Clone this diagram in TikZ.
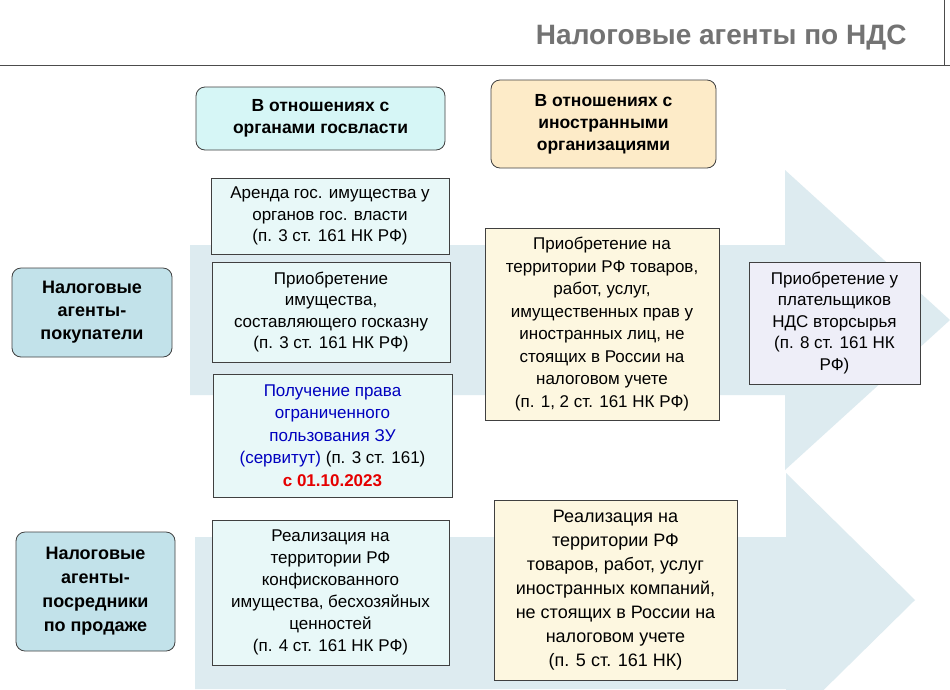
\documentclass[tikz,border=0pt]{standalone}
\usepackage{fontspec}
\setmainfont{Liberation Sans}
\definecolor{arr}{HTML}{DDEBF0}
\definecolor{hcyan}{HTML}{D6F6F6}
\definecolor{hor}{HTML}{FDEBC8}
\definecolor{lteal}{HTML}{C2E2EA}
\definecolor{bcyan}{HTML}{E8F8F8}
\definecolor{byel}{HTML}{FDF7E0}
\definecolor{blav}{HTML}{EEEEF8}
\begin{document}
\begin{tikzpicture}[x=1pt,y=-1pt,
  bx/.style={draw=black!75,line width=0.8pt},
  hd/.style={bx,rounded corners=9pt},
  txt/.style={align=center,font=\fontsize{17}{21.5}\selectfont},
  htx/.style={align=center,font=\bfseries\fontsize{17.5}{22}\selectfont}]
\useasboundingbox (0,0) rectangle (950,689);
\fill[white] (0,0) rectangle (950,689);
% background arrows
\fill[arr] (190,245) -- (785,245) -- (785,170) -- (950,320) -- (785,470) -- (785,395) -- (190,395) -- cycle;
\fill[arr] (195,537) -- (786,537) -- (786,473) -- (915,600) -- (786,727) -- (786,689) -- (195,689) -- cycle;
% header
\node[anchor=east,text=black!55,font=\bfseries\fontsize{28}{32}\selectfont] (title) at (910,38) {Налоговые агенты по НДС};
\coordinate (l1) at (0,65); \coordinate (l2) at (944,65); \coordinate (l3) at (944,0); \coordinate (l4) at (950,65);
\draw[black!70,line width=0.8pt] (l1) -- (l4);
\draw[black!70,line width=0.8pt] (l3) -- (l2);
% column heads
\path[hd,fill=hcyan] (196,87) rectangle (445,150);
\node[htx] (h1) at (320.5,118.5) {В отношениях с\\органами госвласти};
\path[hd,fill=hor] (491,80) rectangle (716,168);
\node[htx] (h2) at (603.5,124) {В отношениях с\\иностранными\\организациями};
% left heads
\path[hd,fill=lteal] (12,268) rectangle (172,357);
\node[htx,font=\bfseries\fontsize{18}{23}\selectfont] (p1) at (92,312.5) {Налоговые\\агенты-\\покупатели};
\path[hd,fill=lteal] (16,532) rectangle (175,651);
\node[htx,font=\bfseries\fontsize{18}{24}\selectfont] (p2) at (95.5,591.5) {Налоговые\\агенты-\\посредники\\по продаже};
% boxes
\path[bx,fill=bcyan] (211,178) rectangle (449,254);
\node[txt] (a) at (330,216) {Аренда гос. имущества у\\органов гос. власти\\(п. 3 ст. 161 НК РФ)};
\path[bx,fill=bcyan] (212,262) rectangle (450,362);
\node[txt] (b) at (331,312) {Приобретение\\имущества,\\составляющего госказну\\(п. 3 ст. 161 НК РФ)};
\path[bx,fill=bcyan] (213,374) rectangle (452,497);
\node[txt,font=\fontsize{17}{22.5}\selectfont] (c) at (332.5,435.5) {\textcolor{blue!75!black}{Получение права}\\\textcolor{blue!75!black}{ограниченного}\\\textcolor{blue!75!black}{пользования ЗУ}\\\textcolor{blue!75!black}{(сервитут)} (п. 3 ст. 161)\\\textcolor{red!90!black}{\bfseries с 01.10.2023}};
\path[bx,fill=bcyan] (212,520) rectangle (449,665);
\node[txt,font=\fontsize{17}{22}\selectfont] (d) at (330.5,592.5) {Реализация на\\территории РФ\\конфискованного\\имущества, бесхозяйных\\ценностей\\(п. 4 ст. 161 НК РФ)};
\path[bx,fill=byel] (485,228) rectangle (719,420);
\node[txt,font=\fontsize{17}{22.5}\selectfont] (e) at (602,324) {Приобретение на\\территории РФ товаров,\\работ, услуг,\\имущественных прав у\\иностранных лиц, не\\стоящих в России на\\налоговом учете\\(п. 1, 2 ст. 161 НК РФ)};
\path[bx,fill=byel] (494,500) rectangle (737,680);
\node[txt,font=\fontsize{18}{24}\selectfont] (f) at (615.5,590) {Реализация на\\территории РФ\\товаров, работ, услуг\\иностранных компаний,\\не стоящих в России на\\налоговом учете\\(п. 5 ст. 161 НК)};
\path[bx,fill=blav] (749,262) rectangle (920,384);
\node[txt] (g) at (834.5,323) {Приобретение у\\плательщиков\\НДС вторсырья\\(п. 8 ст. 161 НК\\РФ)};
\end{tikzpicture}
\end{document}
